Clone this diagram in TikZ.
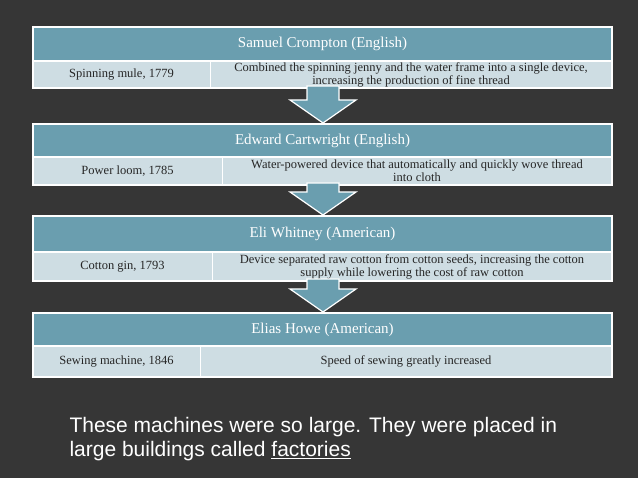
\documentclass[tikz,border=0pt]{standalone}
\usepackage{fontspec}
\setmainfont{Liberation Serif}
\newfontfamily\arialf{Liberation Sans}
\begin{document}
\begin{tikzpicture}[x=1pt,y=-1pt,
  hdr/.style={fill=teal1,draw=white,line width=1.2pt},
  low/.style={fill=light1,draw=white,line width=1.2pt},
  htxt/.style={text=white,font=\fontsize{15}{17}\selectfont},
  btxt/.style={text=black!85,font=\fontsize{12.5}{13}\selectfont,align=center},
  arr/.style={fill=teal1,draw=white,line width=1.2pt}]
\definecolor{teal1}{HTML}{6A9EAF}
\definecolor{light1}{HTML}{CEDDE3}
\definecolor{bg}{HTML}{363636}
\fill[bg] (0,0) rectangle (638,478);
\useasboundingbox (0,0) rectangle (638,478);
\foreach \t/\m/\b/\d/\ttl/\l/\r [count=\i] in {
 27/61/88/210/{Samuel Crompton (English)}/{Spinning mule, 1779}/{Combined the spinning jenny and the water frame into a single device,\\increasing the production of fine thread},
 124/157/185/222/{Edward Cartwright (English)}/{Power loom, 1785}/{Water-powered device that automatically and quickly wove thread\\into cloth},
 216/252/281/212/{Eli Whitney (American)}/{Cotton gin, 1793}/{Device separated raw cotton from cotton seeds, increasing the cotton\\supply while lowering the cost of raw cotton},
 313/346/377/200/{Elias Howe (American)}/{Sewing machine, 1846}/{Speed of sewing greatly increased}}{
  \draw[low] (33,\m) rectangle (612,\b);
  \draw[white,line width=0.6pt] (\d,\m) -- (\d,\b);
  \draw[hdr] (33,\t) rectangle (612,\m);
  \node[htxt] (h\i) at (322.5,{(\t+\m)/2}) {\ttl};
  \node[btxt] (l\i) at ({(33+\d)/2},{(\m+\b)/2}) {\l};
  \node[btxt] (r\i) at ({(\d+612)/2},{(\m+\b)/2}) {\r};
}
\foreach \a/\c in {86/124,183/216,279/313}{
  \draw[arr] (307,\a) -- (339,\a) -- (339,\c-24) -- (356,\c-24) -- (323,\c-1) -- (290,\c-24) -- (307,\c-24) -- cycle;
}
\node[anchor=west,text=white,font=\arialf\fontsize{21}{24}\selectfont,align=left] (note) at (66,439)
 {These machines were so large. They were placed in\\large buildings called \underline{factories}};
\end{tikzpicture}
\end{document}
